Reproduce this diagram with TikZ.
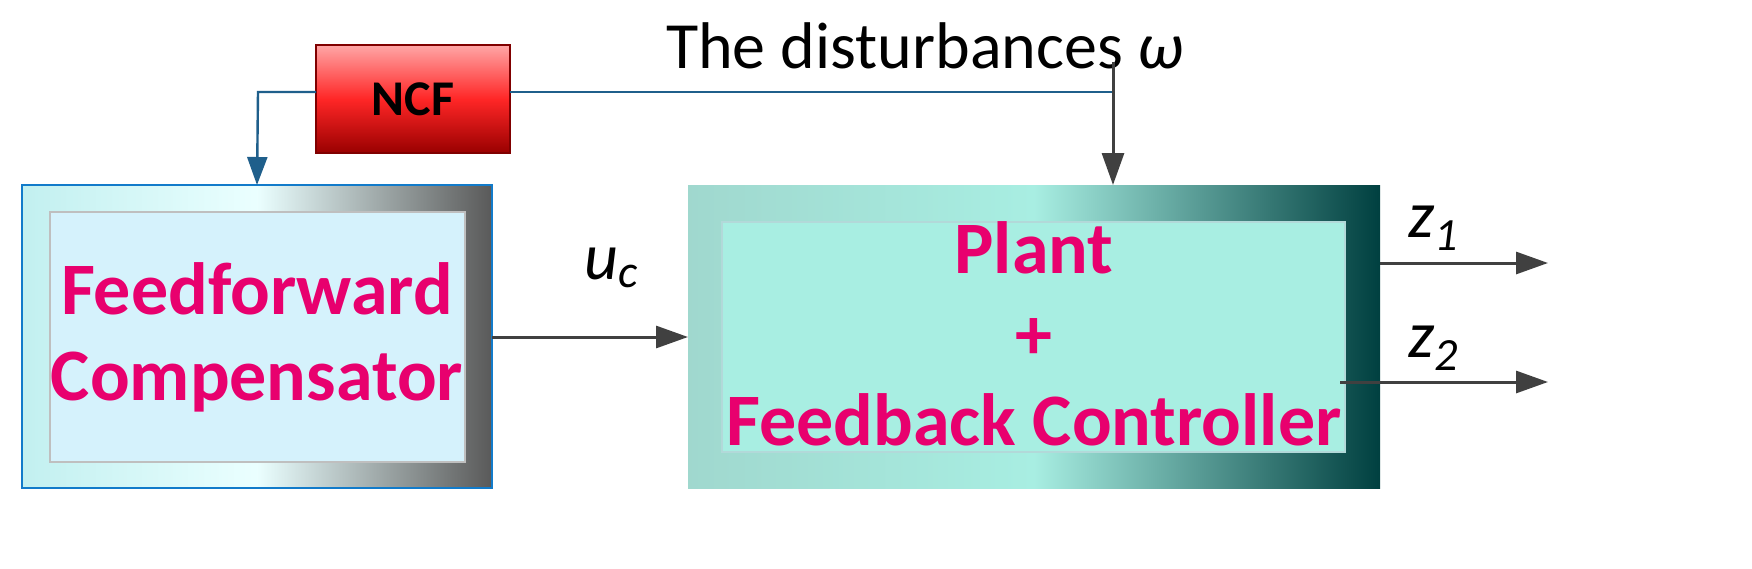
\documentclass[tikz,border=0pt]{standalone}
\usepackage{fontspec}
\setmainfont{Carlito}
\usetikzlibrary{arrows.meta}
\definecolor{pinkt}{HTML}{E8006E}
\definecolor{wire}{HTML}{1F5F8B}
\definecolor{dk}{HTML}{404040}
\definecolor{ffin}{HTML}{D5F2FC}
\definecolor{plin}{HTML}{A8EEE2}
\tikzset{
 lbl/.style={font=\fontsize{37}{43}\selectfont\bfseries, text=pinkt, align=center},
 arr/.style={draw=dk, line width=1.5pt, -{Triangle[length=16pt,width=11pt]}},
 warr/.style={draw=wire, line width=1.2pt, -{Triangle[length=14pt,width=10pt]}},
 mlbl/.style={font=\fontsize{33}{37}\selectfont\itshape}
}
\begin{document}
\begin{tikzpicture}[x=0.5pt,y=-0.5pt]
\clip (0,0) rectangle (1752,568);
\fill[white] (0,0) rectangle (1752,568);
% Feedforward box
\shade[left color=gray!40!cyan!30, right color=gray!70!black, middle color=cyan!8] (22,185) rectangle (492,488);
\draw[cyan!60!blue, line width=1.2pt] (22,185) rectangle (492,488);
\fill[ffin] (50,212) rectangle (465,462);
\draw[gray!50, line width=0.8pt] (50,212) rectangle (465,462);
\node[lbl] (ff) at (257,337) {Feedforward\\Compensator};
% Plant box
\shade[left color=plin!80!gray, right color=teal!50!black, middle color=plin] (688,185) rectangle (1380,488);
\fill[plin] (722,222) rectangle (1345,452);
\draw[teal!30, line width=0.8pt] (722,222) rectangle (1345,452);
\node[lbl] (pl) at (1034,334) {Plant\\+\\Feedback Controller};
\coordinate (plN) at (1113,185);
\coordinate (ffN) at (257,185);
% NCF
\shade[top color=red!35, bottom color=red!60!black, middle color=red!85] (316,45) rectangle (510,153);
\draw[red!50!black, line width=0.8pt] (316,45) rectangle (510,153);
\node[font=\fontsize{25}{29}\selectfont\bfseries] (ncf) at (413,99) {NCF};
% disturbance
\node[font=\fontsize{33}{38}\selectfont, anchor=base] (dist) at (925,68) {The disturbances \textit{ω}};
\coordinate (j) at (1113,92);
\draw[wire, line width=1.2pt] (510,92) -- (j);
\draw[arr] (1113,62) -- (plN);
\draw[warr] (316,92) -- (258,92) -- (ffN);
% uc
\draw[arr] (492,337) -- (688,337);
\node[mlbl] (uc) at (612,268) {u\textsubscript{c}};
% outputs
\coordinate (z1e) at (1548,263);
\coordinate (z2e) at (1548,382);
\draw[arr] (1380,263) -- (z1e);
\draw[arr] (1340,382) -- (z2e);
\node[mlbl] (z1) at (1434,228) {z\textsubscript{1}};
\node[mlbl] (z2) at (1434,348) {z\textsubscript{2}};
\end{tikzpicture}
\end{document}
